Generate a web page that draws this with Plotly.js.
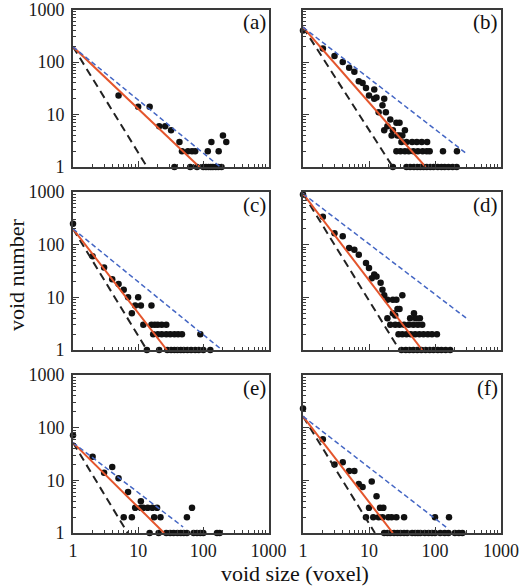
<!DOCTYPE html>
<html>
<head>
<meta charset="utf-8">
<script src="https://cdn.plot.ly/plotly-3.0.1.min.js"></script>
<style>html,body{margin:0;padding:0;background:#fff;}#chart{width:520px;height:588px;}</style>
</head>
<body>
<div id="chart"></div>
<script>
// ---- data: void size (voxel) vs void number, six panels ----
const panelLabels = ['(a)', '(b)', '(c)', '(d)', '(e)', '(f)'];
const tickValues = [1, 10, 100, 1000];
const tickLabels = ['1', '10', '100', '1000'];

const aSize  = [5, 10, 15, 21, 26, 32, 43, 47, 58, 67, 75, 117, 133, 172, 200, 225, 36, 63, 80, 100, 110, 120, 130, 140, 155, 170, 190];
const aCount = [23, 14, 14, 6, 6, 5, 3, 2, 2, 2, 2, 2, 3, 2, 4, 3, 1, 1, 1, 1, 1, 1, 1, 1, 1, 1, 1];

const bSize  = [1, 2, 3, 4, 5, 6, 7, 8, 9, 10, 12, 12, 13, 17, 16, 14, 18, 21, 26, 29, 17, 19, 23, 29, 27, 22, 35, 32,
                31, 37, 45, 53, 63, 76,
                26, 30, 35, 40, 47, 55, 65, 75, 83, 132, 215,
                23, 37, 42, 48, 54, 60, 67, 75, 85, 95, 110, 125, 140, 160, 185, 213];
const bCount = [400, 180, 130, 100, 78, 65, 43, 40, 32, 23, 30, 20, 21, 20, 15, 11, 11, 8, 7, 7, 5, 6, 5, 4, 4, 4, 5, 4,
                3, 3, 3, 3, 3, 3,
                2, 2, 2, 2, 2, 2, 2, 2, 2, 2, 2,
                1, 1, 1, 1, 1, 1, 1, 1, 1, 1, 1, 1, 1, 1, 1, 1];

const cSize  = [1, 2, 3, 4, 5, 6, 7, 10, 8, 9, 11, 16,
                12, 16, 18, 20, 23, 27,
                17, 20, 23, 27, 31, 36, 41, 47, 90,
                13.6, 21, 28, 32, 36, 40, 45, 50, 57, 65, 75, 85, 100, 128];
const cCount = [250, 60, 37, 22, 18, 14, 10, 10, 5, 7, 7, 7,
                3, 3, 3, 3, 3, 3,
                2, 2, 2, 2, 2, 2, 2, 2, 2,
                1, 1, 1, 1, 1, 1, 1, 1, 1, 1, 1, 1, 1, 1];

const dSize  = [1, 2, 3, 4, 5, 6, 7, 9, 10, 12, 13, 11, 15, 16, 17, 19, 23, 26, 32, 29, 27, 23, 25, 48, 51, 42, 59, 19,
                21, 25, 29, 34, 40, 47, 55, 64,
                28, 32, 37, 43, 50, 58, 67, 78, 90, 107,
                31, 36, 41, 47, 54, 62, 72, 83, 95, 110, 125, 145, 170];
const dCount = [900, 340, 165, 145, 86, 80, 64, 45, 36, 27, 25, 23, 19, 14, 11, 9, 9, 9, 11, 6, 6, 5, 4.5, 5, 4, 4, 4, 4,
                3, 3, 3, 3, 3, 3, 3, 3,
                2, 2, 2, 2, 2, 2, 2, 2, 2, 2,
                1, 1, 1, 1, 1, 1, 1, 1, 1, 1, 1, 1, 1];

const eSize  = [1, 2, 3, 4, 5, 7, 6, 8, 9, 11, 12, 14, 16.5, 19.5, 11, 17.6, 22, 56, 67,
                15, 20.6, 27, 31, 35, 40, 45, 50, 56, 71, 80, 90, 100, 162, 178];
const eCount = [72, 28, 14, 18, 11, 6, 2, 2, 3, 3, 3, 3, 3, 3, 4, 2, 2, 2, 3,
                1, 1, 1, 1, 1, 1, 1, 1, 1, 1, 1, 1, 1, 1, 1];

const fSize  = [1, 2, 3, 4, 5, 6, 7, 8, 11, 13, 10, 14.7, 16.5,
                9, 11.6, 14, 16, 19.6, 22, 26, 34, 100, 163,
                17, 19, 21, 24, 27, 30, 34, 38, 45, 50, 55, 60, 70, 80, 90, 100, 120, 140, 160, 200, 230, 260];
const fCount = [230, 60, 20, 22, 15, 15, 8.5, 7.5, 9.5, 5, 3, 3, 3,
                2, 2, 2, 2, 2, 2, 2, 2, 2, 2,
                1, 1, 1, 1, 1, 1, 1, 1, 1, 1, 1, 1, 1, 1, 1, 1, 1, 1, 1, 1, 1, 1];

// power-law guide lines: start count at size 1, end point [size, count]
const lineStart = [195, 460, 200, 930, 52, 164];
const blackEnd  = [[13.7, 1], [23, 1], [13.6, 1], [29, 1], [6.9, 1], [12.3, 1]];
const redEnd    = [[87, 1], [72, 1], [27.6, 1], [64, 1], [25, 1], [23, 1]];
const blueEnd   = [[182, 1], [300, 1.8], [194, 1], [300, 4], [49, 1.3], [159, 1.2]];

const sizes  = [aSize, bSize, cSize, dSize, eSize, fSize];
const counts = [aCount, bCount, cCount, dCount, eCount, fCount];

// ---- layout ----
const W = 520, H = 588;
const colDom = [[73 / W, 268.5 / W], [303 / W, 501 / W]];
const rowTop = [9.5, 192, 375], rowBot = [167, 350, 533];
const minorVals = [];
[1, 10, 100].forEach(d => { for (let k = 2; k <= 9; k++) minorVals.push(k * d); });

const serif = '"Liberation Serif", "Times New Roman", serif';
const axisColor = '#3a3a3a';
const traces = [];
const layout = {
  width: W, height: H,
  margin: {l: 0, r: 0, t: 0, b: 0},
  paper_bgcolor: '#fff', plot_bgcolor: '#fff',
  showlegend: false,
  font: {family: serif, size: 18, color: '#222'},
  annotations: []
};

for (let i = 0; i < 6; i++) {
  const row = Math.floor(i / 2), col = i % 2;
  const n = i + 1;
  const xa = 'x' + (n === 1 ? '' : n), ya = 'y' + (n === 1 ? '' : n);
  const xk = 'xaxis' + (n === 1 ? '' : n), yk = 'yaxis' + (n === 1 ? '' : n);
  const common = {
    type: 'log', range: [0, 3], fixedrange: true,
    showline: true, mirror: true, linecolor: axisColor, linewidth: 2,
    showgrid: false, zeroline: false,
    ticks: 'inside', ticklen: 6, tickwidth: 1, tickcolor: axisColor,
    tickmode: 'array', tickvals: tickValues, ticktext: tickLabels,
    ticklabeloverflow: 'allow',
    minor: {ticks: 'inside', ticklen: 3, tickwidth: 1, tickcolor: axisColor, tickmode: 'array', tickvals: minorVals, showgrid: false},
    tickfont: {family: serif, size: 18, color: '#1a1a1a'}
  };
  layout[xk] = Object.assign({}, common, {
    domain: colDom[col], anchor: ya,
    showticklabels: row === 2
  });
  layout[yk] = Object.assign({}, common, {
    domain: [1 - rowBot[row] / H, 1 - rowTop[row] / H], anchor: xa,
    showticklabels: col === 0, ticklabelstandoff: 3
  });

  traces.push({
    x: sizes[i], y: counts[i], xaxis: xa, yaxis: ya,
    type: 'scatter', mode: 'markers', cliponaxis: false,
    marker: {color: '#111', size: 6.5}
  });
  traces.push({
    x: [1, blackEnd[i][0]], y: [lineStart[i], blackEnd[i][1]], xaxis: xa, yaxis: ya,
    type: 'scatter', mode: 'lines', line: {color: '#222', width: 2, dash: '8px,5px'}
  });
  traces.push({
    x: [1, redEnd[i][0]], y: [lineStart[i], redEnd[i][1]], xaxis: xa, yaxis: ya,
    type: 'scatter', mode: 'lines', line: {color: '#e4552c', width: 2}
  });
  traces.push({
    x: [1, blueEnd[i][0]], y: [lineStart[i], blueEnd[i][1]], xaxis: xa, yaxis: ya,
    type: 'scatter', mode: 'lines', line: {color: '#4466c4', width: 1.5, dash: '5px,3px'}
  });

  layout.annotations.push({
    text: panelLabels[i], xref: 'paper', yref: 'paper',
    x: (col === 0 ? 268 : 500) / W, y: 1 - (rowTop[row] + 13) / H,
    xanchor: 'right', yanchor: 'middle', showarrow: false,
    font: {family: serif, size: 21, color: '#111'}
  });
}

layout.annotations.push({
  text: 'void number', xref: 'paper', yref: 'paper',
  x: 16 / W, y: 1 - 275 / H, textangle: -90,
  xanchor: 'center', yanchor: 'middle', showarrow: false,
  font: {family: serif, size: 22, color: '#111'}
});
layout.annotations.push({
  text: 'void size (voxel)', xref: 'paper', yref: 'paper',
  x: 295 / W, y: 1 - 573 / H,
  xanchor: 'center', yanchor: 'middle', showarrow: false,
  font: {family: serif, size: 22, color: '#111'}
});

Plotly.newPlot('chart', traces, layout, {displayModeBar: false, staticPlot: true});
</script>
</body>
</html>
